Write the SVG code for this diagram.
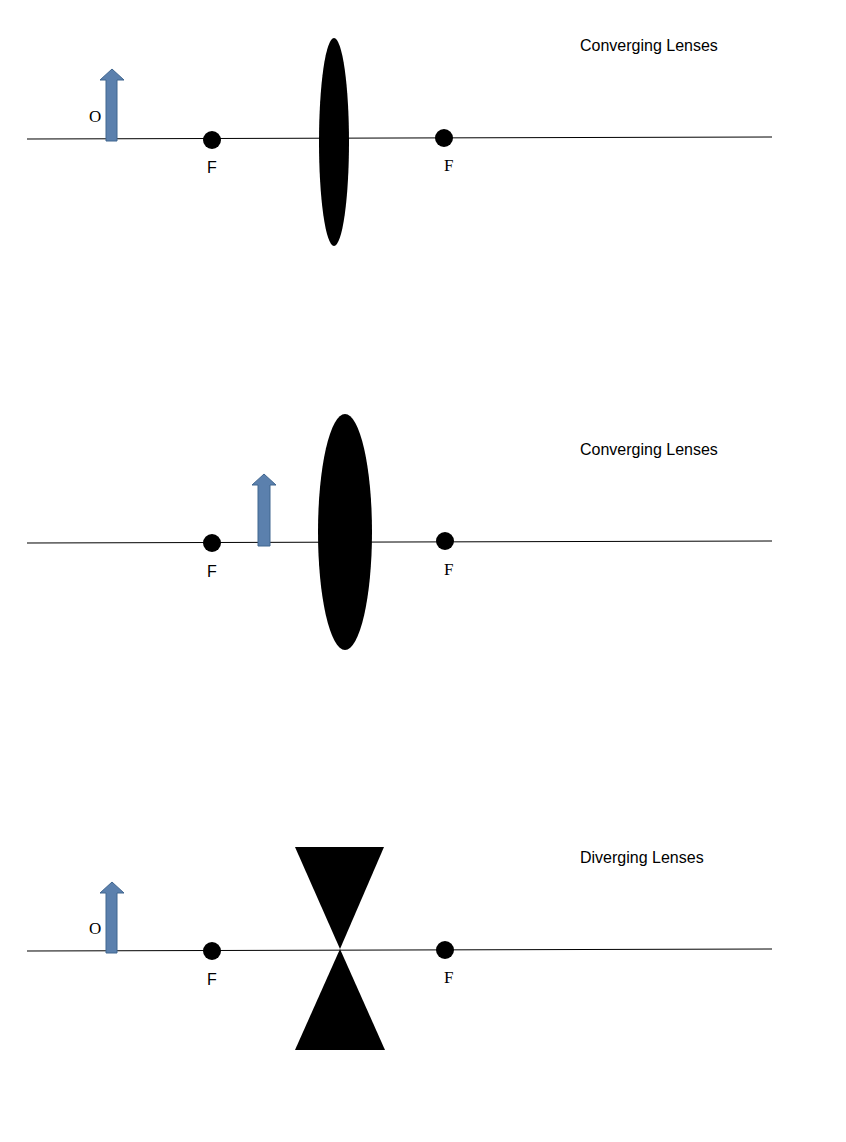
<svg xmlns="http://www.w3.org/2000/svg" width="846" height="1142" viewBox="0 0 846 1142">
<style>
.ax{stroke:#000;stroke-width:1}
.dot{fill:#000}
.arr{fill:#5b80ad;stroke:#41668f;stroke-width:1}
.lbl{font-family:"Liberation Sans",Arial,sans-serif;font-size:16px;fill:#000}
.fs{font-family:"Liberation Sans",Arial,sans-serif;font-size:16px}
.fr{font-family:"Liberation Serif","Times New Roman",serif;font-size:17px}
</style>
<rect width="846" height="1142" fill="#fff"/>
<g id="axes">
<line class="ax" x1="27" y1="139" x2="772" y2="137"/>
<line class="ax" x1="27" y1="543" x2="772" y2="541"/>
<line class="ax" x1="27" y1="951" x2="772" y2="949"/>
</g>
<g id="panel1">
<ellipse cx="334" cy="142" rx="15" ry="104"/>
<circle class="dot" cx="212" cy="140" r="9"/>
<circle class="dot" cx="444" cy="138" r="9"/>
<path class="arr" d="M106,141 V80 H100 L112,69 L124,80 H117 V141 Z"/>
<text class="fr" x="89" y="122">O</text>
<text class="fs" x="207" y="173">F</text>
<text class="fr" x="444" y="171">F</text>
<text class="lbl" x="580" y="51">Converging Lenses</text>
</g>
<g id="panel2">
<ellipse cx="345" cy="532" rx="27" ry="118"/>
<circle class="dot" cx="212" cy="543" r="9"/>
<circle class="dot" cx="445" cy="541" r="9"/>
<path class="arr" d="M258,546 V485 H252 L264,474 L276,485 H270 V546 Z"/>
<text class="fs" x="207" y="577">F</text>
<text class="fr" x="444" y="575">F</text>
<text class="lbl" x="580" y="455">Converging Lenses</text>
</g>
<g id="panel3">
<polygon points="295,847 384,847 340,949"/>
<polygon points="340,949 295,1050 385,1050"/>
<circle class="dot" cx="212" cy="951" r="9"/>
<circle class="dot" cx="445" cy="950" r="9"/>
<path class="arr" d="M106,953 V893 H100 L112,882 L124,893 H117 V953 Z"/>
<text class="fr" x="89" y="934">O</text>
<text class="fs" x="207" y="985">F</text>
<text class="fr" x="444" y="983">F</text>
<text class="lbl" x="580" y="863">Diverging Lenses</text>
</g>
</svg>
